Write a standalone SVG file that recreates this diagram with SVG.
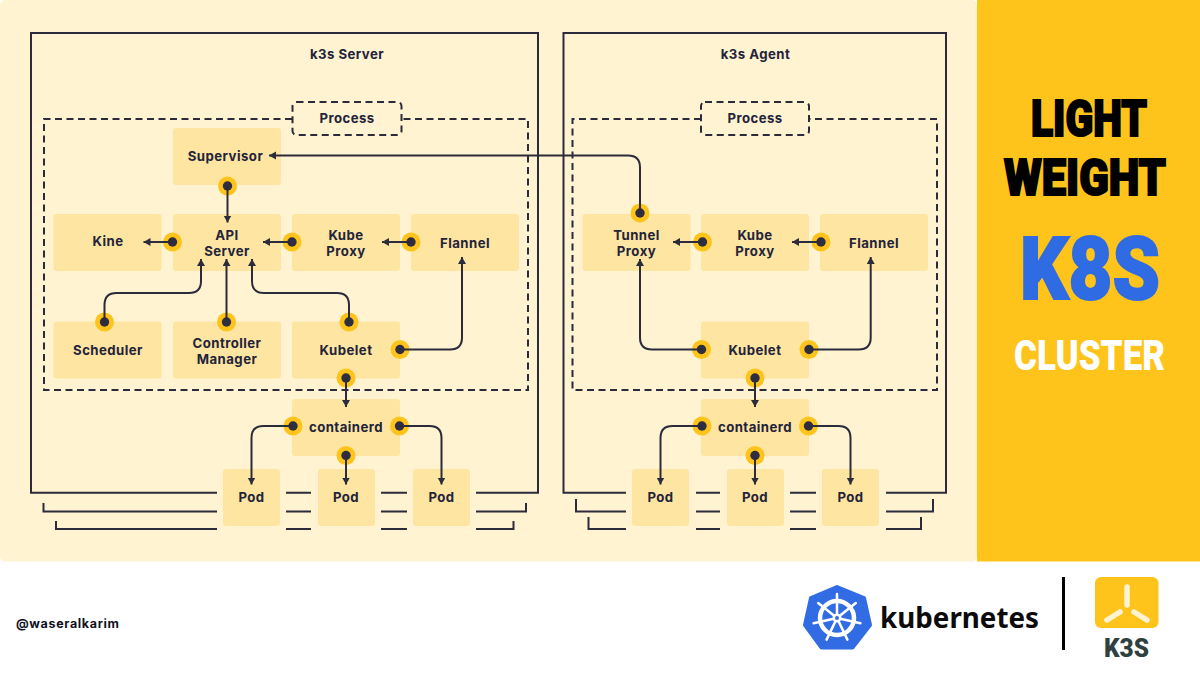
<svg xmlns="http://www.w3.org/2000/svg" width="1200" height="675" viewBox="0 0 1200 675">
<style>
.n{fill:#FEE6A2}
.t{font-family:"Inter","Noto Sans",sans-serif;font-weight:700;font-size:13.200px;fill:#23233a;text-anchor:middle;letter-spacing:.45px}
.c{fill:none;stroke:#2b2b3c;stroke-width:2;marker-end:url(#a)}
.b{fill:none;stroke:#2b2b3c;stroke-width:2}
.d{fill:none;stroke:#2b2b3c;stroke-width:2;stroke-dasharray:7 4.5}
.po{fill:#FEC41B}
.pi{fill:#2e2e40}
.h{font-family:"Roboto",sans-serif;font-weight:900;text-anchor:start}
</style>
<defs>
<marker id="a" markerUnits="userSpaceOnUse" markerWidth="10" markerHeight="10" refX="7" refY="4" orient="auto"><path d="M0 0L7 4L0 8Z" fill="#2b2b3c"/></marker>
<g id="port"><circle r="9.500" class="po"/><circle r="4.700" class="pi"/></g>
</defs>
<rect width="1200" height="675" fill="#fff"/>
<rect x="0" y="0" width="977" height="561.500" rx="5" fill="#FFF3D1"/>
<rect x="977" y="0" width="223" height="561.500" fill="#FEC41B"/>

<g id="frames">
<path class="b" d="M217 492.700H31V33H538V492.700H476M286 492.700H311M381 492.700H407"/>
<path class="b" d="M43.500 503V511.500H217M286 511.500H311M381 511.500H407M476 511.500H526V503"/>
<path class="b" d="M56 521V529H217M286 529H311M381 529H407M476 529H513.500V521"/>
<path class="d" d="M292 119H44V390H528V119H401"/>
<rect class="d" x="292.500" y="102" width="109" height="33" rx="4"/>
<path class="b" d="M626 492.700H563.500V33H946V492.700H886M696 492.700H720M790 492.700H816"/>
<path class="b" d="M576 499V511.500H626M696 511.500H720M790 511.500H816M886 511.500H933V499"/>
<path class="b" d="M588.500 517V529H626M696 529H720M790 529H816M886 529H921V517"/>
<path class="d" d="M701 119H572.500V390H937V119H809"/>
<rect class="d" x="701" y="102" width="108" height="33" rx="4"/>
</g>
<text class="t" x="347" y="59">k3s Server</text>
<text class="t" x="347" y="123">Process</text>
<text class="t" x="755.500" y="59">k3s Agent</text>
<text class="t" x="755" y="123">Process</text>

<g id="supervisor"><rect class="n" x="173" y="128" width="108" height="57" rx="3"/><text class="t" x="225.500" y="160.500">Supervisor</text></g>
<g id="kine"><rect class="n" x="53.500" y="214" width="108" height="57" rx="3"/><text class="t" x="108" y="246">Kine</text></g>
<g id="api-server"><rect class="n" x="173" y="214" width="108" height="57" rx="3"/><text class="t" x="227" y="240">API</text><text class="t" x="227" y="256">Server</text></g>
<g id="kube-proxy"><rect class="n" x="292" y="214" width="108" height="57" rx="3"/><text class="t" x="346" y="240">Kube</text><text class="t" x="346" y="256">Proxy</text></g>
<g id="flannel"><rect class="n" x="411" y="214" width="108" height="57" rx="3"/><text class="t" x="465" y="248">Flannel</text></g>
<g id="scheduler"><rect class="n" x="53.500" y="321.500" width="108" height="57" rx="3"/><text class="t" x="108" y="355">Scheduler</text></g>
<g id="controller-manager"><rect class="n" x="173" y="321.500" width="108" height="57" rx="3"/><text class="t" x="227" y="347.500">Controller</text><text class="t" x="227" y="363.500">Manager</text></g>
<g id="kubelet"><rect class="n" x="292" y="321.500" width="108" height="57" rx="3"/><text class="t" x="346" y="355">Kubelet</text></g>
<g id="containerd"><rect class="n" x="292" y="399" width="108" height="57" rx="3"/><text class="t" x="346" y="432">containerd</text></g>
<g id="pod-1"><rect class="n" x="223" y="469" width="57" height="57" rx="3"/><text class="t" x="251.500" y="502">Pod</text></g>
<g id="pod-2"><rect class="n" x="318" y="469" width="57" height="57" rx="3"/><text class="t" x="346" y="502">Pod</text></g>
<g id="pod-3"><rect class="n" x="413" y="469" width="57" height="57" rx="3"/><text class="t" x="441.500" y="502">Pod</text></g>

<g id="tunnel-proxy"><rect class="n" x="582.500" y="214" width="108" height="57" rx="3"/><text class="t" x="636.500" y="240">Tunnel</text><text class="t" x="636.500" y="256">Proxy</text></g>
<g id="agent-kube-proxy"><rect class="n" x="701" y="214" width="108" height="57" rx="3"/><text class="t" x="755" y="240">Kube</text><text class="t" x="755" y="256">Proxy</text></g>
<g id="agent-flannel"><rect class="n" x="820" y="214" width="108" height="57" rx="3"/><text class="t" x="874" y="248">Flannel</text></g>
<g id="agent-kubelet"><rect class="n" x="701" y="321.500" width="108" height="57" rx="3"/><text class="t" x="755" y="355">Kubelet</text></g>
<g id="agent-containerd"><rect class="n" x="701" y="399" width="108" height="57" rx="3"/><text class="t" x="755" y="432">containerd</text></g>
<g id="agent-pod-1"><rect class="n" x="632" y="469" width="57" height="57" rx="3"/><text class="t" x="660.500" y="502">Pod</text></g>
<g id="agent-pod-2"><rect class="n" x="727" y="469" width="57" height="57" rx="3"/><text class="t" x="755" y="502">Pod</text></g>
<g id="agent-pod-3"><rect class="n" x="822" y="469" width="57" height="57" rx="3"/><text class="t" x="850.500" y="502">Pod</text></g>

<g id="connectors">
<use href="#port" x="227.500" y="186"/><use href="#port" x="172.500" y="242"/><use href="#port" x="292" y="242"/><use href="#port" x="411" y="242"/>
<use href="#port" x="104.500" y="322"/><use href="#port" x="226.500" y="322"/><use href="#port" x="349" y="322"/><use href="#port" x="400" y="349.500"/><use href="#port" x="346" y="378"/>
<use href="#port" x="293" y="426"/><use href="#port" x="399.500" y="426"/><use href="#port" x="346" y="455.500"/>
<use href="#port" x="640" y="213"/><use href="#port" x="702.500" y="242"/><use href="#port" x="821" y="242"/>
<use href="#port" x="701.500" y="349.500"/><use href="#port" x="809" y="349.500"/><use href="#port" x="755" y="378"/>
<use href="#port" x="702" y="426"/><use href="#port" x="808.500" y="426"/><use href="#port" x="755" y="455.500"/>

<path class="c" d="M227.500 186V222.500"/>
<path class="c" d="M172.500 242H143.500"/>
<path class="c" d="M292 242H263"/>
<path class="c" d="M411 242H382"/>
<path class="c" d="M104.500 322V305Q104.500 293 116.500 293H189Q201 293 201 281V259"/>
<path class="c" d="M226.500 322V259"/>
<path class="c" d="M349 322V305Q349 293 337 293H264Q252 293 252 281V259"/>
<path class="c" d="M400 349.500H450Q462 349.500 462 337.500V257"/>
<path class="c" d="M346 378V407"/>
<path class="c" d="M293 426H263.500Q251.500 426 251.500 438V484.500"/>
<path class="c" d="M399.500 426H429.500Q441.500 426 441.500 438V484.500"/>
<path class="c" d="M346 455.500V484.500"/>
<path class="c" d="M640 213V167.500Q640 155.500 628 155.500H269"/>
<path class="c" d="M702.500 242H673"/>
<path class="c" d="M821 242H792"/>
<path class="c" d="M701.500 349.500H652Q640 349.500 640 337.500V259"/>
<path class="c" d="M809 349.500H858.700Q870.700 349.500 870.700 337.500V257"/>
<path class="c" d="M755 378V407"/>
<path class="c" d="M702 426H672.500Q660.500 426 660.500 438V484.500"/>
<path class="c" d="M808.500 426H838.500Q850.500 426 850.500 438V484.500"/>
<path class="c" d="M755 455.500V484.500"/>
</g>

<g id="headline">
<text class="h" x="1031" y="136" font-size="50" textLength="116" lengthAdjust="spacingAndGlyphs" fill="#000" stroke="#000" stroke-width="2">LIGHT</text>
<text class="h" x="1004" y="195" font-size="50" textLength="162" lengthAdjust="spacingAndGlyphs" fill="#000" stroke="#000" stroke-width="2">WEIGHT</text>
<text class="h" x="1020" y="299" font-size="88" textLength="140" lengthAdjust="spacingAndGlyphs" fill="#2F6BE2" stroke="#2F6BE2" stroke-width="2">K8S</text>
<text class="h" x="1014" y="370" font-size="43" textLength="151" lengthAdjust="spacingAndGlyphs" fill="#fff">CLUSTER</text>
</g>

<text x="16" y="628" font-family="Inter, 'Noto Sans', sans-serif" font-weight="700" font-size="12.500" fill="#111122" textLength="103">@waseralkarim</text>

<g id="kubernetes-logo">
<path d="M837 587L864 598L870 625L852.500 647.500H821.500L805 625L811 598Z" fill="#326CE5" stroke="#326CE5" stroke-width="4" stroke-linejoin="round"/>
<circle cx="837" cy="618" r="17" fill="none" stroke="#fff" stroke-width="4.500"/>
<g stroke="#fff" stroke-width="2.500" stroke-linecap="round">
<path d="M837 618V594"/><path d="M837 618L855.800 603"/><path d="M837 618L860.400 623.300"/><path d="M837 618L847.400 639.600"/><path d="M837 618L826.600 639.600"/><path d="M837 618L813.600 623.300"/><path d="M837 618L818.200 603"/>
</g>
<circle cx="837" cy="618" r="4.500" fill="#fff"/><circle cx="837" cy="618" r="2" fill="#326CE5"/>
<text x="880" y="628" font-family="'Noto Sans',sans-serif" font-weight="700" font-size="29" fill="#0b0b0b" textLength="159" lengthAdjust="spacingAndGlyphs">kubernetes</text>
</g>
<rect x="1062" y="577" width="3" height="73" fill="#000"/>
<g id="k3s-logo">
<rect x="1095" y="577" width="63.500" height="51" rx="6" fill="#FEC41B"/>
<g stroke="#FFF3D1" stroke-width="5.500" stroke-linecap="round"><path d="M1127 587V605"/><path d="M1107 620L1120 612"/><path d="M1147 620L1134 612"/></g>
<text x="1104" y="657" font-family="Roboto,sans-serif" font-weight="900" font-size="25" fill="#2F4040" textLength="45" lengthAdjust="spacingAndGlyphs">K3S</text>
</g>
</svg>
